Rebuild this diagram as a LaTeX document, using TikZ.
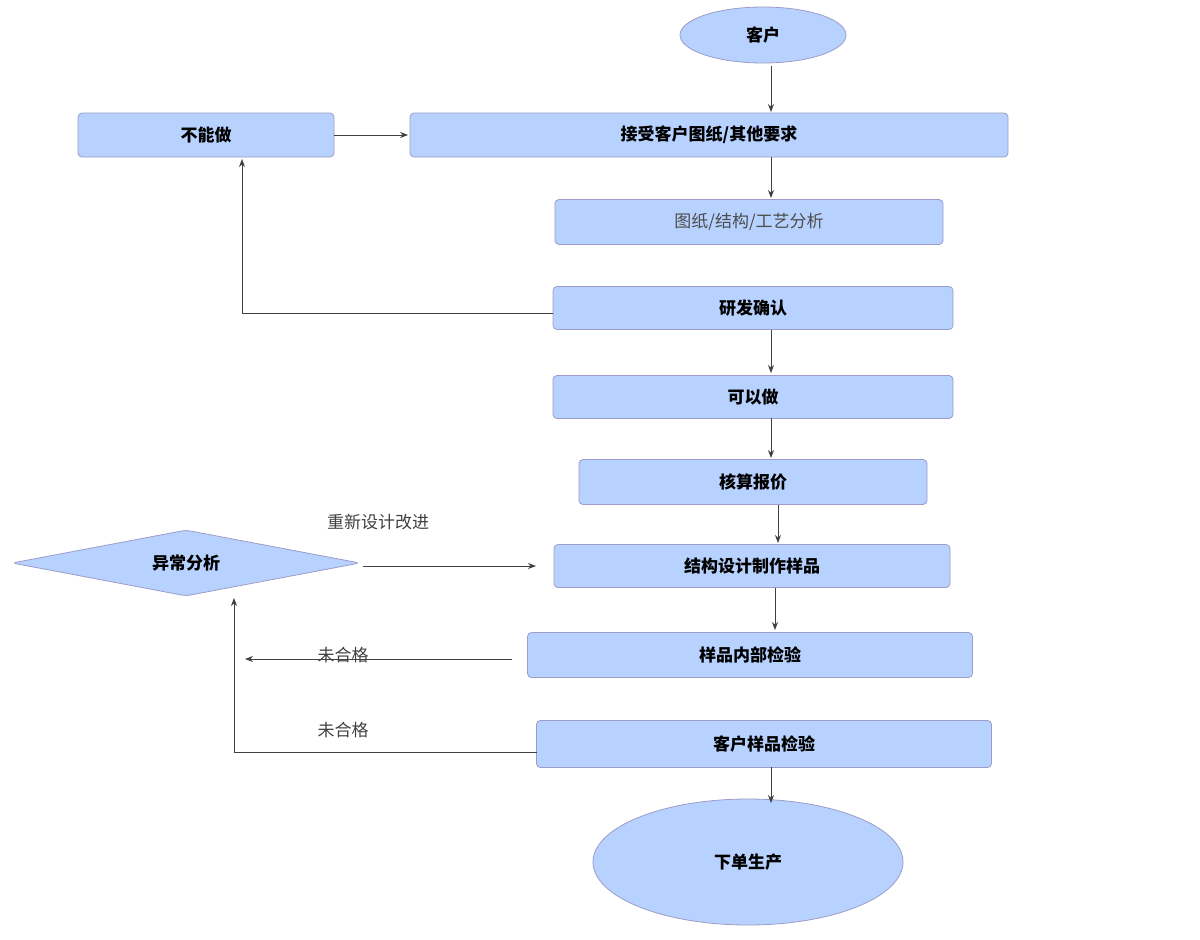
\documentclass[tikz,border=0pt]{standalone}
\usepackage{fontspec}
\setmainfont{Noto Sans CJK SC}
\usetikzlibrary{shapes.geometric,arrows.meta}
\begin{document}
\begin{tikzpicture}[x=1pt,y=-1pt,
 box/.style={draw=blue!30!gray!60,fill=blue!20!cyan!15!white!85!blue,rounded corners=4pt,line width=0.8pt,font=\fontsize{17}{20}\selectfont\bfseries,inner sep=0pt},
 arr/.style={-{Stealth[length=8pt,width=6pt]},line width=0.8pt,draw=black!75},
 lbl/.style={font=\fontsize{17}{20}\selectfont,text=black!75}]
\useasboundingbox (0,0) rectangle (1200,940);
\tikzset{bf/.style={fill=blue!25!cyan!10!white}}
\node[box,ellipse,minimum width=166pt,minimum height=56pt] (kh) at (763,35) {客户};
\node[box,minimum width=598pt,minimum height=44pt] (js) at (709,135) {接受客户图纸/其他要求};
\node[box,minimum width=256pt,minimum height=44pt] (bn) at (206,135) {不能做};
\node[box,minimum width=388pt,minimum height=45pt,font=\fontsize{17}{20}\selectfont,text=black!70] (tz) at (749,222) {图纸/结构/工艺分析};
\node[box,minimum width=400pt,minimum height=43pt] (yf) at (753,308) {研发确认};
\node[box,minimum width=400pt,minimum height=43pt] (ky) at (753,397) {可以做};
\node[box,minimum width=348pt,minimum height=45pt] (hs) at (753,482) {核算报价};
\node[box,minimum width=396pt,minimum height=43pt] (jg) at (752,566) {结构设计制作样品};
\node[box,minimum width=445pt,minimum height=45pt] (nb) at (750,655) {样品内部检验};
\node[box,minimum width=455pt,minimum height=47pt] (kj) at (764,744) {客户样品检验};
\node[box,ellipse,minimum width=310pt,minimum height=126pt] (xd) at (748,862) {下单生产};
\node[box,diamond,aspect=5.3,minimum width=348pt,minimum height=66pt] (yc) at (186,563) {异常分析};
\coordinate (c1) at (242,313);
\coordinate (c2) at (245,659);
\coordinate (c3) at (234,752);
\draw[arr] (771,66) -- (771,112);
\draw[arr] (bn.east) -- (408,135);
\draw[arr] (771,157) -- (771,198);
\draw[arr] (553,313) -- (c1) -- (242,159);
\draw[arr] (771,330) -- (771,373);
\draw[arr] (771,418) -- (771,458);
\draw[arr] (778,505) -- (778,543);
\draw[arr] (775,588) -- (775,630);
\draw[arr] (512,659) -- (c2);
\draw[arr] (537,752) -- (c3) -- (234,598);
\draw[arr] (363,566) -- (536,566);
\draw[arr] (771,767) -- (771,803);
\node[lbl] (l1) at (343,655) {未合格};
\node[lbl] (l2) at (343,730) {未合格};
\node[lbl] (l3) at (378,522) {重新设计改进};
\end{tikzpicture}
\end{document}
